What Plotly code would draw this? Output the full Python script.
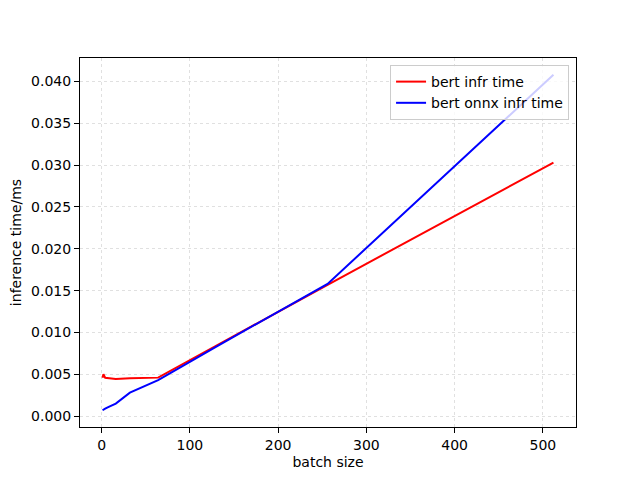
import plotly.graph_objects as go

batch_size = [1, 2, 4, 8, 16, 32, 64, 128, 256, 512]
bert_infr_time = [0.0046, 0.0050, 0.00458, 0.00452, 0.00445, 0.00452, 0.00460, 0.0083, 0.0157, 0.0303]
bert_onnx_infr_time = [0.0007, 0.0008, 0.0009, 0.0011, 0.00150, 0.00280, 0.00430, 0.0082, 0.0158, 0.0408]

fig = go.Figure()
fig.add_trace(go.Scatter(x=batch_size, y=bert_infr_time, mode="lines",
                         line=dict(color="red", width=2), name="bert infr time"))
fig.add_trace(go.Scatter(x=batch_size, y=bert_onnx_infr_time, mode="lines",
                         line=dict(color="blue", width=2), name="bert onnx infr time"))

axis_common = dict(showline=True, linecolor="black", linewidth=1, mirror=True,
                   ticks="outside", ticklen=5, tickcolor="black", automargin=False,
                   showgrid=True, gridcolor="#e0e0e0", griddash="dot", gridwidth=1,
                   zeroline=False, tickfont=dict(size=14, color="black"))

fig.update_layout(
    width=640, height=480,
    margin=dict(l=72, r=72, t=50, b=61),
    paper_bgcolor="white", plot_bgcolor="white",
    font=dict(family="DejaVu Sans", size=14, color="black"),
    xaxis=dict(range=[-24.55, 537.55], tickvals=[0, 100, 200, 300, 400, 500],
               title=dict(text="batch size", font=dict(size=14), standoff=5), **axis_common),
    yaxis=dict(range=[-0.0013, 0.0428], tickvals=[0.000, 0.005, 0.010, 0.015, 0.020, 0.025, 0.030, 0.035, 0.040],
               tickformat=".3f", title=dict(text="inference time/ms", font=dict(size=14), standoff=6),
               **axis_common),
    legend=dict(x=0.986, y=0.981, xanchor="right", yanchor="top",
                bgcolor="rgba(255,255,255,0.8)", bordercolor="#cccccc", borderwidth=1,
                font=dict(size=14), tracegroupgap=0),
    showlegend=True,
)

fig.write_html("out.html")
